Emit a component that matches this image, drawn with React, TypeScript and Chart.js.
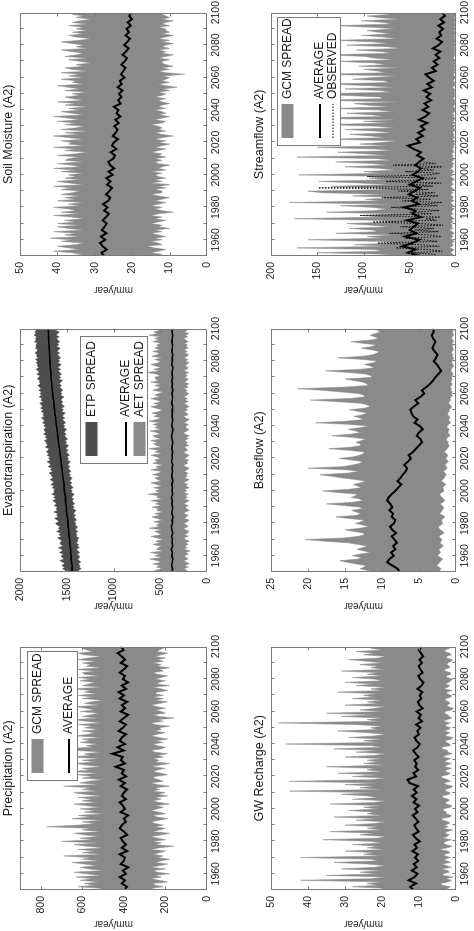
import React, { useEffect, useRef } from "react";
import { Chart, registerables } from "chart.js";

Chart.register(...registerables);

const FONT = "'Liberation Sans', Arial, Helvetica, sans-serif";
const GRAY = "#8a8a8a";
const DARK = "#4e4e4e";
const FRAME = "#7a7a7a";
const TEXT = "#1c1c1c";

// ---------- categories ----------
const YEARS_1 = Array.from({ length: 151 }, (_, i) => 1950 + i); // annual (spread bands)
const YEARS_2 = Array.from({ length: 76 }, (_, i) => 1950 + 2 * i); // averages
const OBS_YEARS = Array.from({ length: 58 }, (_, i) => 1951 + i);
const TIME_TICKS = [1960, 1980, 2000, 2020, 2040, 2060, 2080, 2100];

const PRECIP_TICKS = [0, 200, 400, 600, 800];
const ET_TICKS = [0, 500, 1000, 1500, 2000];
const SM_TICKS = [0, 10, 20, 30, 40, 50];
const GWR_TICKS = [0, 10, 20, 30, 40, 50];
const BF_TICKS = [0, 5, 10, 15, 20, 25];
const SF_TICKS = [0, 50, 100, 150, 200];

// ---------- Precipitation ----------
const PRECIP_MAX = [
  560, 500, 620, 540, 590, 520, 610, 550, 630, 510,
  580, 640, 500, 570, 610, 530, 590, 650, 520, 600,
  560, 690, 510, 600, 540, 620, 500, 580, 640, 530,
  700, 550, 610, 520, 590, 640, 510, 600, 560, 770,
  620, 540, 600, 510, 650, 560, 620, 500, 590, 540,
  610, 520, 580, 640, 530, 600, 550, 620, 510, 590,
  640, 530, 600, 560, 690, 520, 610, 570, 500, 600,
  550, 620, 520, 650, 560, 600, 510, 580, 630, 540,
  600, 520, 660, 560, 590, 510, 620, 720, 550, 580,
  530, 610, 560, 600, 510, 630, 570, 540, 600, 520,
  590, 550, 620, 510, 580, 640, 530, 600, 560, 520,
  610, 540, 580, 630, 520, 590, 560, 500, 600, 550,
  620, 530, 590, 560, 640, 510, 600, 570, 540, 610,
  560, 620, 520, 590, 600, 540, 630, 510, 580, 560,
  600, 530, 620, 570, 510, 590, 620, 550, 580, 600,
  560,
];
const PRECIP_MIN = [
  240, 270, 210, 250, 260, 190, 230, 270, 220, 250,
  180, 240, 260, 200, 270, 230, 190, 250, 220, 180,
  240, 210, 260, 230, 200, 270, 230, 160, 250, 220,
  260, 200, 240, 270, 220, 180, 260, 230, 200, 250,
  210, 250, 270, 230, 190, 240, 260, 200, 230, 270,
  240, 210, 250, 180, 230, 260, 220, 250, 190, 240,
  200, 260, 230, 250, 180, 240, 270, 210, 230, 260,
  250, 190, 220, 260, 240, 200, 270, 230, 180, 250,
  230, 260, 210, 240, 190, 250, 270, 220, 200, 240,
  260, 210, 250, 190, 230, 270, 240, 200, 250, 220,
  230, 180, 250, 270, 210, 240, 160, 230, 260, 200,
  220, 250, 200, 240, 270, 230, 190, 250, 210, 260,
  210, 250, 240, 190, 220, 260, 180, 240, 230, 200,
  250, 220, 190, 240, 260, 210, 230, 180, 240, 220,
  260, 210, 240, 200, 250, 220, 190, 240, 230, 210,
  250,
];
const PRECIP_AVG = [
  400, 385, 410, 395, 420, 390, 405, 380, 415, 400,
  395, 420, 385, 410, 390, 405, 415, 385, 400, 420,
  410, 390, 400, 380, 415, 395, 405, 420, 390, 410,
  400, 385, 415, 395, 425, 390, 410, 400, 440, 395,
  415, 405, 455, 400, 430, 395, 420, 410, 390, 425,
  405, 390, 420, 400, 380, 415, 395, 410, 385, 420,
  400, 425, 390, 410, 380, 405, 395, 420, 400, 385,
  415, 395, 410, 430, 400, 415,
];

// ---------- Evapotranspiration ----------
const ETP_MAX = [
  1530, 1510, 1545, 1520, 1555, 1525, 1540, 1575, 1530, 1550,
  1560, 1535, 1580, 1545, 1555, 1590, 1540, 1565, 1575, 1550,
  1570, 1600, 1555, 1585, 1565, 1610, 1575, 1590, 1570, 1605,
  1620, 1585, 1600, 1630, 1590, 1610, 1595, 1640, 1600, 1615,
  1600, 1635, 1610, 1625, 1650, 1615, 1640, 1620, 1660, 1630,
  1640, 1625, 1655, 1635, 1670, 1640, 1650, 1680, 1645, 1660,
  1665, 1690, 1650, 1675, 1660, 1700, 1670, 1685, 1710, 1675,
  1695, 1680, 1710, 1690, 1720, 1700, 1690, 1730, 1705, 1715,
  1720, 1740, 1705, 1730, 1715, 1750, 1725, 1735, 1745, 1720,
  1745, 1730, 1760, 1735, 1750, 1770, 1740, 1755, 1745, 1775,
  1750, 1780, 1760, 1770, 1790, 1755, 1775, 1765, 1795, 1770,
  1785, 1770, 1800, 1775, 1790, 1810, 1780, 1795, 1785, 1815,
  1800, 1790, 1820, 1795, 1805, 1830, 1800, 1815, 1810, 1825,
  1810, 1835, 1805, 1825, 1815, 1840, 1820, 1810, 1835, 1825,
  1830, 1815, 1845, 1825, 1835, 1820, 1850, 1830, 1840, 1825,
  1835,
];
const ETP_MIN = [
  1360, 1375, 1345, 1370, 1355, 1380, 1350, 1365, 1385, 1360,
  1370, 1390, 1360, 1380, 1395, 1365, 1385, 1375, 1400, 1380,
  1385, 1370, 1400, 1390, 1405, 1380, 1410, 1395, 1385, 1415,
  1400, 1420, 1395, 1410, 1425, 1405, 1430, 1415, 1400, 1435,
  1420, 1440, 1415, 1430, 1445, 1425, 1450, 1435, 1420, 1455,
  1440, 1460, 1430, 1450, 1465, 1445, 1470, 1455, 1440, 1475,
  1460, 1480, 1455, 1470, 1485, 1465, 1490, 1475, 1460, 1495,
  1480, 1500, 1470, 1490, 1505, 1485, 1510, 1495, 1480, 1515,
  1500, 1520, 1490, 1510, 1525, 1505, 1530, 1515, 1500, 1535,
  1520, 1540, 1510, 1530, 1545, 1520, 1550, 1535, 1515, 1555,
  1535, 1555, 1525, 1545, 1560, 1540, 1565, 1550, 1530, 1570,
  1550, 1570, 1540, 1560, 1575, 1555, 1580, 1565, 1545, 1585,
  1565, 1580, 1555, 1575, 1590, 1565, 1595, 1575, 1560, 1600,
  1575, 1590, 1565, 1585, 1600, 1575, 1605, 1585, 1570, 1610,
  1585, 1600, 1575, 1595, 1610, 1580, 1615, 1595, 1580, 1620,
  1590,
];
const ETP_AVG = [
  1440, 1445, 1442, 1450, 1455, 1452, 1460, 1458, 1465, 1470,
  1468, 1475, 1480, 1478, 1485, 1490, 1488, 1495, 1500, 1505,
  1502, 1510, 1515, 1512, 1520, 1525, 1530, 1528, 1535, 1540,
  1545, 1548, 1552, 1558, 1560, 1565, 1570, 1575, 1578, 1585,
  1588, 1592, 1598, 1600, 1605, 1610, 1615, 1618, 1622, 1628,
  1630, 1635, 1638, 1642, 1648, 1650, 1655, 1658, 1660, 1665,
  1668, 1670, 1672, 1676, 1678, 1680, 1682, 1685, 1686, 1688,
  1690, 1692, 1694, 1695, 1697, 1700,
];
const AET_MAX = [
  520, 560, 470, 540, 500, 580, 490, 530, 610, 480,
  560, 500, 610, 470, 540, 520, 490, 580, 500, 550,
  470, 540, 600, 490, 520, 560, 480, 620, 510, 540,
  500, 570, 480, 530, 590, 500, 560, 470, 540, 520,
  590, 490, 550, 510, 600, 480, 540, 520, 630, 500,
  550, 500, 570, 480, 540, 600, 490, 530, 560, 500,
  580, 520, 490, 600, 510, 550, 470, 580, 530, 560,
  500, 540, 600, 480, 560, 510, 620, 490, 540, 570,
  530, 600, 490, 550, 580, 500, 540, 610, 490, 560,
  520, 580, 500, 620, 540, 490, 570, 520, 590, 510,
  480, 550, 600, 510, 570, 490, 540, 600, 500, 560,
  520, 470, 580, 530, 500, 560, 490, 600, 520, 550,
  560, 500, 540, 640, 510, 570, 490, 550, 600, 520,
  500, 560, 480, 590, 530, 510, 580, 500, 560, 520,
  540, 490, 580, 510, 560, 500, 620, 530, 570, 510,
  530,
];
const AET_MIN = [
  230, 210, 250, 200, 240, 190, 220, 250, 200, 230,
  240, 200, 230, 180, 250, 210, 240, 200, 230, 190,
  230, 250, 200, 240, 210, 190, 230, 250, 200, 220,
  250, 210, 190, 240, 220, 200, 250, 230, 190, 220,
  230, 200, 250, 220, 190, 240, 210, 230, 200, 250,
  215, 240, 190, 230, 205, 250, 220, 190, 240, 210,
  225, 200, 245, 210, 190, 235, 250, 205, 220, 195,
  240, 210, 190, 230, 250, 205, 220, 240, 195, 225,
  210, 240, 200, 225, 190, 235, 250, 210, 195, 230,
  225, 200, 245, 215, 190, 230, 250, 200, 220, 240,
  205, 230, 190, 220, 245, 200, 235, 210, 250, 215,
  195, 230, 210, 245, 200, 225, 190, 240, 215, 200,
  240, 210, 230, 195, 250, 215, 200, 235, 220, 190,
  230, 205, 245, 215, 195, 235, 210, 250, 200, 225,
  210, 240, 200, 225, 250, 205, 230, 195, 240, 215,
  225,
];
const AET_AVG = [
  375, 368, 380, 372, 365, 378, 370, 383, 367, 374,
  370, 379, 366, 375, 382, 369, 373, 364, 377, 371,
  368, 376, 372, 381, 366, 374, 370, 378, 365, 373,
  377, 369, 374, 366, 380, 371, 375, 368, 376, 372,
  367, 374, 379, 370, 365, 377, 372, 368, 375, 370,
  373, 366, 378, 371, 369, 376, 365, 374, 370, 377,
  368, 375, 371, 364, 379, 370, 373, 367, 376, 371,
  369, 376, 372, 366, 374, 370,
];

// ---------- Soil Moisture ----------
const SM_MAX = [
  38, 33, 36, 41, 34, 37, 40, 35, 33, 39,
  36, 42, 34, 38, 35, 41, 33, 37, 40, 34,
  40, 35, 38, 33, 36, 41, 34, 39, 35, 37,
  41, 34, 37, 33, 40, 35, 38, 34, 39, 36,
  34, 39, 36, 41, 33, 37, 40, 34, 38, 35,
  37, 33, 39, 35, 41, 34, 36, 40, 33, 38,
  37, 34, 40, 35, 32, 38, 35, 41, 33, 37,
  36, 39, 33, 37, 41, 34, 38, 32, 39, 35,
  33, 38, 35, 40, 34, 37, 41, 33, 36, 39,
  34, 37, 32, 38, 35, 40, 33, 36, 38, 34,
  36, 32, 38, 34, 37, 40, 33, 36, 35, 39,
  33, 37, 34, 39, 32, 36, 38, 33, 35, 31,
  34, 37, 32, 38, 35, 33, 36, 39, 32, 35,
  33, 36, 39, 34, 31, 35, 37, 33, 36, 32,
  35, 33, 37, 32, 36, 34, 31, 35, 33, 36,
  34,
];
const SM_MIN = [
  14, 12, 15, 13, 11, 14, 16, 12, 13, 15,
  12, 14, 11, 13, 15, 12, 14, 10, 13, 12,
  15, 13, 11, 14, 12, 15, 13, 9, 12, 14,
  12, 15, 13, 11, 14, 12, 10, 13, 15, 12,
  12, 14, 11, 13, 10, 15, 12, 14, 11, 13,
  14, 12, 15, 11, 13, 12, 10, 13, 14, 12,
  14, 11, 13, 12, 15, 13, 11, 14, 12, 10,
  13, 11, 14, 12, 9, 12, 14, 11, 13, 12,
  13, 15, 12, 11, 14, 12, 10, 13, 11, 12,
  14, 11, 13, 12, 10, 12, 13, 11, 14, 12,
  11, 13, 10, 12, 8, 11, 13, 10, 12, 11,
  10, 12, 6, 11, 13, 10, 12, 9, 11, 12,
  12, 10, 13, 11, 9, 12, 11, 13, 10, 12,
  11, 9, 12, 10, 13, 11, 9, 12, 10, 11,
  11, 13, 10, 12, 11, 9, 12, 10, 11, 12,
  11,
];
const SM_AVG = [
  27.5, 28.2, 26.8, 27.9, 28.6, 27.2, 28.4, 26.9, 28.1, 27.4,
  26.8, 27.9, 27.0, 26.2, 27.5, 26.6, 27.8, 26.4, 25.9, 27.0,
  26.1, 25.4, 26.7, 25.8, 26.9, 25.2, 26.3, 24.8, 25.9, 26.4,
  25.1, 24.6, 25.8, 24.2, 25.4, 24.9, 23.8, 25.2, 24.4, 23.9,
  24.8, 23.6, 24.5, 23.2, 24.2, 23.7, 24.9, 23.1, 23.8, 22.9,
  23.5, 22.6, 23.9, 22.8, 23.3, 22.1, 23.0, 22.4, 21.8, 22.9,
  22.0, 21.4, 22.6, 21.7, 20.9, 22.1, 21.3, 20.6, 21.8, 20.9,
  21.5, 20.4, 21.2, 20.1, 20.8, 20.3,
];

// ---------- GW Recharge ----------
const GWR_MAX = [
  22, 19, 28, 21, 24, 20, 42, 23, 19, 35,
  21, 26, 20, 31, 22, 19, 24, 33, 21, 23,
  42, 20, 25, 22, 30, 19, 24, 21, 28, 20,
  23, 36, 21, 19, 26, 22, 34, 20, 24, 21,
  30, 22, 19, 27, 21, 33, 20, 24, 22, 29,
  21, 25, 20, 34, 22, 19, 28, 21, 24, 31,
  22, 45, 20, 26, 22, 30, 21, 45, 23, 19,
  28, 21, 32, 20, 24, 22, 35, 19, 25, 21,
  24, 20, 30, 22, 19, 27, 21, 33, 20, 23,
  46, 21, 25, 20, 29, 22, 19, 24, 32, 21,
  23, 20, 27, 48, 21, 24, 20, 31, 22, 35,
  20, 26, 22, 19, 30, 21, 24, 20, 28, 22,
  25, 21, 32, 20, 23, 19, 27, 22, 30, 20,
  22, 28, 20, 24, 21, 31, 19, 23, 21, 26,
  20, 24, 29, 21, 19, 25, 22, 27, 20, 23,
  22,
];
const GWR_MIN = [
  3.0, 2.2, 1.5, 3.8, 4.2, 2.0, 1.2, 2.8, 0.8, 3.5,
  3.5, 1.8, 2.2, 4.0, 1.2, 2.6, 3.8, 1.5, 2.5, 3.2,
  1.4, 2.9, 3.2, 1.6, 2.0, 4.5, 2.3, 1.0, 2.8, 3.4,
  2.8, 1.2, 3.6, 2.4, 1.8, 3.0, 2.4, 0.9, 3.3, 2.1,
  3.1, 1.7, 2.0, 3.5, 4.0, 1.6, 1.3, 2.7, 2.6, 3.4,
  3.4, 1.5, 1.1, 2.6, 2.9, 1.9, 2.0, 3.6, 3.7, 1.8,
  1.6, 2.9, 2.8, 1.4, 0.9, 2.7, 3.3, 1.5, 2.2, 3.6,
  4.1, 2.3, 1.5, 2.8, 2.7, 1.2, 3.0, 2.5, 1.2, 3.1,
  2.5, 1.4, 3.6, 2.8, 1.0, 2.2, 2.3, 3.7, 3.9, 1.5,
  1.7, 2.6, 2.9, 1.3, 0.8, 2.9, 2.4, 1.6, 3.2, 2.0,
  1.4, 2.9, 2.6, 1.5, 3.5, 2.4, 1.1, 1.8, 2.2, 3.1,
  3.0, 1.2, 0.7, 2.1, 2.5, 1.6, 1.9, 3.0, 2.8, 1.3,
  1.2, 2.5, 2.4, 1.0, 3.3, 2.2, 1.6, 2.9, 2.0, 1.4,
  0.9, 2.3, 2.7, 1.4, 1.5, 3.0, 3.1, 1.7, 1.8, 2.4,
  2.2, 1.3, 1.0, 2.5, 2.6, 1.2, 1.7, 3.0, 2.9, 1.6,
  1.4,
];
const GWR_AVG = [
  11.5, 12.4, 10.8, 12.8, 11.2, 10.4, 11.9, 10.6, 11.4, 10.2,
  11.1, 10.3, 11.8, 10.5, 11.2, 9.8, 10.9, 11.6, 10.1, 10.8,
  11.3, 10.2, 10.9, 11.7, 10.4, 11.1, 10.0, 11.5, 10.7, 11.9,
  10.6, 11.4, 10.3, 12.6, 13.1, 10.8, 11.5, 10.2, 11.0, 10.6,
  11.3, 10.1, 10.9, 11.6, 10.4, 9.8, 10.7, 11.2, 10.0, 10.5,
  9.6, 10.8, 9.2, 10.1, 9.5, 10.6, 9.0, 9.9, 10.3, 9.4,
  9.8, 9.1, 10.4, 9.3, 8.8, 9.7, 10.2, 9.0, 9.6, 10.1,
  9.2, 9.9, 8.9, 9.5, 10.0, 9.3,
];

// ---------- Baseflow ----------
const BF_MAX = [
  11.0, 12.0, 13.0, 12.4, 12.2, 13.5, 14.8, 15.7, 13.2, 12.8,
  14.0, 13.1, 11.6, 12.5, 13.4, 12.6, 12.0, 13.3, 14.6, 17.8,
  20.4, 15.2, 13.2, 12.4, 12.5, 13.8, 15.0, 13.0, 11.8, 12.6,
  13.6, 12.8, 12.4, 14.5, 16.2, 13.4, 12.9, 13.5, 14.1, 12.7,
  13.0, 15.2, 17.5, 14.0, 12.6, 13.0, 14.2, 13.6, 13.3, 16.0,
  18.0, 14.5, 12.8, 13.3, 13.9, 12.9, 12.2, 13.6, 15.4, 16.8,
  18.4, 14.6, 13.1, 14.8, 20.0, 15.2, 14.0, 13.0, 12.6, 14.0,
  15.8, 13.9, 13.0, 12.5, 12.4, 14.4, 17.2, 14.1, 12.8, 13.0,
  13.5, 12.8, 12.2, 14.0, 16.8, 14.2, 12.9, 13.6, 14.6, 12.9,
  11.8, 14.5, 19.0, 14.8, 12.5, 13.0, 13.8, 12.6, 12.0, 13.2,
  14.4, 12.4, 11.6, 12.0, 12.8, 16.0, 19.7, 14.2, 12.3, 12.5,
  13.1, 15.6, 18.0, 21.4, 15.0, 11.9, 12.0, 12.6, 13.8, 15.0,
  11.4, 11.5, 12.2, 14.5, 17.6, 12.8, 11.0, 11.6, 12.4, 11.2,
  10.6, 12.5, 16.0, 12.6, 11.2, 10.6, 10.4, 11.5, 12.8, 11.4,
  10.8, 12.6, 14.2, 11.5, 10.5, 11.0, 11.6, 10.9, 10.2, 10.6,
  11.0,
];
const BF_MIN = [
  2.4, 2.2, 2.0, 2.3, 2.6, 2.4, 2.2, 2.0, 1.8, 2.1,
  2.5, 2.3, 2.1, 2.2, 2.3, 2.0, 1.7, 1.9, 2.2, 2.0,
  1.9, 2.1, 2.3, 2.0, 1.6, 1.8, 2.1, 2.3, 2.4, 2.0,
  1.8, 1.9, 2.0, 1.7, 1.5, 1.8, 2.2, 2.0, 1.9, 1.7,
  1.7, 1.9, 2.1, 1.8, 1.5, 1.7, 1.9, 2.1, 2.2, 1.9,
  1.6, 1.7, 1.8, 1.6, 1.4, 1.6, 2.0, 1.8, 1.6, 1.5,
  1.3, 1.5, 1.7, 1.4, 1.2, 1.3, 1.5, 1.3, 1.0, 1.2,
  1.4, 1.2, 1.1, 1.3, 1.6, 1.4, 1.2, 1.0, 0.9, 1.1,
  1.0, 1.2, 1.3, 1.1, 0.8, 0.9, 1.1, 1.0, 0.9, 1.2,
  1.2, 1.0, 0.7, 0.9, 1.0, 0.8, 0.9, 1.1, 1.1, 0.9,
  0.9, 0.7, 0.6, 0.8, 1.0, 0.9, 0.7, 0.8, 0.6, 0.5,
  0.6, 0.5, 0.7, 0.6, 0.8, 0.6, 0.5, 0.7, 0.6, 0.5,
  0.6, 0.5, 0.4, 0.5, 0.7, 0.6, 0.5, 0.3, 0.4, 0.6,
  0.5, 0.4, 0.3, 0.5, 0.4, 0.6, 0.5, 0.3, 0.4, 0.5,
  0.4, 0.5, 0.3, 0.4, 0.6, 0.5, 0.3, 0.4, 0.5, 0.3,
  0.4,
];
const BF_AVG = [
  7.6, 7.9, 8.6, 9.3, 9.0, 8.4, 8.8, 8.2, 8.5, 8.0,
  8.3, 8.7, 8.1, 8.6, 8.9, 8.4, 8.2, 8.7, 8.5, 9.0,
  8.6, 8.9, 9.3, 9.1, 8.7, 8.2, 7.8, 7.4, 7.9, 7.5,
  7.2, 6.8, 6.6, 7.0, 6.5, 6.1, 6.4, 5.8, 5.4, 5.0,
  4.6, 4.8, 5.3, 5.0, 4.5, 4.9, 5.6, 5.2, 5.8, 6.0,
  6.2, 5.7, 5.1, 5.5, 4.8, 4.3, 4.6, 4.0, 3.5, 3.1,
  2.8, 2.4, 2.0, 2.3, 2.6, 3.0, 2.7, 2.5, 2.9, 3.2,
  3.0, 2.8, 3.1, 3.3, 3.0, 3.1,
];

// ---------- Streamflow ----------
const SF_MAX = [
  95, 70, 150, 80, 88, 172, 75, 110, 65, 82,
  160, 78, 96, 68, 130, 85, 90, 115, 72, 92,
  118, 70, 85, 175, 80, 102, 66, 140, 88, 75,
  92, 125, 70, 180, 82, 98, 64, 112, 78, 145,
  160, 72, 88, 135, 70, 105, 148, 76, 94, 68,
  170, 80, 100, 66, 82, 120, 74, 90, 130, 70,
  85, 172, 75, 96, 128, 68, 88, 150, 72, 104,
  80, 64, 138, 76, 92, 115, 70, 86, 120, 66,
  86, 142, 72, 100, 65, 165, 78, 90, 118, 68,
  84, 132, 70, 96, 110, 62, 150, 80, 82, 120,
  150, 70, 82, 120, 66, 94, 138, 72, 78, 112,
  90, 64, 145, 76, 84, 100, 62, 105, 76, 88,
  128, 66, 88, 98, 140, 70, 80, 108, 60, 74,
  118, 72, 90, 130, 64, 78, 102, 70, 85, 96,
  66, 90, 130, 70, 78, 102, 62, 85, 96, 70,
  88,
];
const SF_MIN = [
  5, 3, 6, 4, 2, 7, 4, 3, 5, 2,
  4, 6, 3, 5, 2, 4, 7, 3, 5, 4,
  6, 3, 5, 2, 4, 6, 3, 5, 4, 2,
  5, 3, 4, 6, 2, 5, 3, 4, 6, 3,
  5, 2, 4, 6, 3, 4, 5, 2, 3, 6,
  3, 5, 2, 4, 6, 3, 4, 2, 5, 3,
  2, 4, 3, 5, 2, 3, 4, 2, 3, 1,
  3, 2, 4, 1, 3, 2, 4, 2, 1, 3,
  2, 4, 1, 3, 2, 1, 3, 2, 4, 1,
  2, 1, 3, 2, 1, 2, 1, 3, 2, 1,
  3, 2, 1, 2, 4, 1, 2, 1, 3, 2,
  1, 2, 3, 1, 2, 1, 2, 1, 2, 1,
  2, 1, 3, 2, 1, 2, 1, 2, 1, 2,
  1, 2, 1, 1, 2, 1, 2, 1, 1, 2,
  1, 2, 1, 1, 2, 1, 1, 2, 1, 1,
  1,
];
const SF_AVG = [
  38, 52, 44, 58, 47, 40, 55, 43, 50, 46,
  41, 53, 38, 47, 44, 56, 40, 48, 42, 51,
  45, 39, 50, 43, 36, 47, 41, 38, 44, 40,
  35, 42, 38, 46, 52, 39, 43, 36, 41, 34,
  38, 31, 40, 33, 29, 36, 30, 34, 27, 32,
  28, 35, 26, 31, 24, 29, 33, 22, 26, 20,
  24, 18, 22, 17, 25, 19, 15, 21, 16, 18,
  14, 19, 13, 17, 12, 15,
];
const SF_OBS = [
  22, 48, 15, 30, 65, 18, 40, 85, 20, 35,
  55, 16, 28, 72, 19, 45, 24, 60, 14, 38,
  90, 21, 33, 17, 104, 26, 50, 18, 42, 70,
  20, 36, 15, 58, 27, 80, 19, 44, 23, 62,
  30, 149, 25, 47, 16, 76, 34, 21, 96, 28,
  18, 55, 24, 40, 15, 68, 22, 35,
];

// ---------- layout (landscape, later rotated) ----------
const PAD_L = 50;
const PAD_T = 22;
const PAD_R = 14;
const PAD_B = 24;

type Series =
  | { kind: "band"; max: number[]; min: number[]; color: string }
  | { kind: "avg"; data: number[]; width?: number }
  | { kind: "obs"; data: number[] };

type LegendEntry = { kind: "rect" | "line" | "dots"; color?: string; label: string; dy: number };

type PanelCfg = {
  id: string;
  left: number;
  top: number;
  w: number;
  h: number;
  title: string;
  yMax: number;
  yStep: number;
  yTicks: number[];
  series: Series[];
  legend?: { right: number; top: number; w: number; h: number; entries: LegendEntry[] };
};

const PANELS: PanelCfg[] = [
  {
    id: "precip", left: 41, top: 20, w: 244, h: 187, title: "Precipitation (A2)",
    yMax: 900, yStep: 200, yTicks: PRECIP_TICKS,
    series: [
      { kind: "avg", data: PRECIP_AVG, width: 2 },
      { kind: "band", max: PRECIP_MAX, min: PRECIP_MIN, color: GRAY },
    ],
    legend: {
      right: 5, top: 7, w: 129, h: 50,
      entries: [
        { kind: "rect", color: GRAY, label: "GCM SPREAD", dy: 10 },
        { kind: "line", label: "AVERAGE", dy: 41 },
      ],
    },
  },
  {
    id: "et", left: 359, top: 20, w: 244, h: 187, title: "Evapotranspiration (A2)",
    yMax: 2000, yStep: 500, yTicks: ET_TICKS,
    series: [
      { kind: "avg", data: ETP_AVG, width: 1.6 },
      { kind: "avg", data: AET_AVG, width: 1.6 },
      { kind: "band", max: ETP_MAX, min: ETP_MIN, color: DARK },
      { kind: "band", max: AET_MAX, min: AET_MIN, color: GRAY },
    ],
    legend: {
      right: 8, top: 60, w: 127, h: 67,
      entries: [
        { kind: "rect", color: DARK, label: "ETP SPREAD", dy: 11 },
        { kind: "line", label: "AVERAGE", dy: 45 },
        { kind: "rect", color: GRAY, label: "AET SPREAD", dy: 59 },
      ],
    },
  },
  {
    id: "sm", left: 675, top: 20, w: 244, h: 187, title: "Soil Moisture (A2)",
    yMax: 50, yStep: 10, yTicks: SM_TICKS,
    series: [
      { kind: "avg", data: SM_AVG, width: 2 },
      { kind: "band", max: SM_MAX, min: SM_MIN, color: GRAY },
    ],
  },
  {
    id: "gwr", left: 41, top: 271, w: 244, h: 185, title: "GW Recharge (A2)",
    yMax: 50, yStep: 10, yTicks: GWR_TICKS,
    series: [
      { kind: "avg", data: GWR_AVG, width: 2 },
      { kind: "band", max: GWR_MAX, min: GWR_MIN, color: GRAY },
    ],
  },
  {
    id: "bf", left: 359, top: 271, w: 244, h: 185, title: "Baseflow (A2)",
    yMax: 25, yStep: 5, yTicks: BF_TICKS,
    series: [
      { kind: "avg", data: BF_AVG, width: 2 },
      { kind: "band", max: BF_MAX, min: BF_MIN, color: GRAY },
    ],
  },
  {
    id: "sf", left: 675, top: 271, w: 244, h: 185, title: "Streamflow (A2)",
    yMax: 200, yStep: 50, yTicks: SF_TICKS,
    series: [
      { kind: "avg", data: SF_AVG, width: 2 },
      { kind: "obs", data: SF_OBS },
      { kind: "band", max: SF_MAX, min: SF_MIN, color: GRAY },
    ],
    legend: {
      right: 5, top: 6, w: 128, h: 63,
      entries: [
        { kind: "rect", color: GRAY, label: "GCM SPREAD", dy: 10 },
        { kind: "line", label: "AVERAGE", dy: 42 },
        { kind: "dots", label: "OBSERVED", dy: 55 },
      ],
    },
  },
];

function pts(xs: number[], ys: number[]) {
  return ys.map((y, i) => ({ x: xs[i], y }));
}

function buildDatasets(series: Series[]) {
  const ds: any[] = [];
  for (const s of series) {
    if (s.kind === "band") {
      ds.push({
        data: pts(YEARS_1, s.max), fill: "+1", backgroundColor: s.color, borderColor: s.color,
        borderWidth: 0.5, pointRadius: 0, order: 3,
      });
      ds.push({
        data: pts(YEARS_1, s.min), fill: false, borderColor: s.color,
        borderWidth: 0.5, pointRadius: 0, order: 3,
      });
    } else if (s.kind === "avg") {
      ds.push({
        data: pts(YEARS_2, s.data), fill: false, borderColor: "#000",
        borderWidth: s.width ?? 2, pointRadius: 0, order: 0,
      });
    } else {
      ds.push({
        data: pts(OBS_YEARS, s.data), fill: false, borderColor: "#111",
        borderWidth: 1, borderDash: [1.5, 1.5], pointRadius: 0, order: 1,
      });
    }
  }
  return ds;
}

function makeDecor(p: PanelCfg) {
  return {
    id: "decor_" + p.id,
    afterDatasetsDraw(chart: any) {
      const { ctx, chartArea: a } = chart;
      const xs = chart.scales.x;
      const ys = chart.scales.y;
      const L = Math.round(a.left) + 0.5;
      const R = Math.round(a.right) - 0.5;
      const T = Math.round(a.top) + 0.5;
      const B = Math.round(a.bottom) - 0.5;
      ctx.save();
      ctx.strokeStyle = FRAME;
      ctx.lineWidth = 1;
      ctx.beginPath();
      xs.ticks.forEach((t: any) => {
        if (t.value <= 1950 || t.value >= 2100) return;
        const x = Math.round(xs.getPixelForValue(t.value)) + 0.5;
        ctx.moveTo(x, B); ctx.lineTo(x, B - 3);
        ctx.moveTo(x, T); ctx.lineTo(x, T + 3);
      });
      ys.ticks.forEach((t: any) => {
        if (t.value <= 0 || t.value >= p.yMax) return;
        const y = Math.round(ys.getPixelForValue(t.value)) + 0.5;
        ctx.moveTo(L, y); ctx.lineTo(L + 3, y);
        ctx.moveTo(R, y); ctx.lineTo(R - 3, y);
      });
      ctx.stroke();

      if (p.legend) {
        const lg = p.legend;
        const bx = Math.round(a.right - lg.right - lg.w) + 0.5;
        const by = Math.round(a.top + lg.top) + 0.5;
        ctx.fillStyle = "#fff";
        ctx.fillRect(bx, by, lg.w, lg.h);
        ctx.strokeStyle = FRAME;
        ctx.strokeRect(bx, by, lg.w, lg.h);
        ctx.font = `12px ${FONT}`;
        ctx.textAlign = "left";
        ctx.textBaseline = "middle";
        for (const e of lg.entries) {
          const cy = by + e.dy;
          const sx = bx + 7.5;
          if (e.kind === "rect") {
            ctx.fillStyle = e.color || GRAY;
            ctx.fillRect(sx, cy - 6, 34, 12);
          } else {
            ctx.save();
            ctx.beginPath();
            ctx.strokeStyle = "#000";
            ctx.lineWidth = e.kind === "dots" ? 1 : 2;
            ctx.setLineDash(e.kind === "dots" ? [1.5, 1.5] : []);
            ctx.moveTo(sx, Math.round(cy));
            ctx.lineTo(sx + 34, Math.round(cy));
            ctx.stroke();
            ctx.restore();
          }
          ctx.fillStyle = TEXT;
          ctx.fillText(e.label, sx + 39, cy + 0.5);
        }
      }

      ctx.strokeStyle = FRAME;
      ctx.strokeRect(L, T, R - L, B - T);

      ctx.fillStyle = TEXT;
      ctx.font = `12.5px ${FONT}`;
      ctx.textAlign = "center";
      ctx.textBaseline = "middle";
      ctx.fillText(p.title, (a.left + a.right) / 2, a.top - 11);

      ctx.save();
      ctx.translate(a.left - 34, (a.top + a.bottom) / 2);
      ctx.rotate(-Math.PI / 2);
      ctx.font = `10px ${FONT}`;
      ctx.fillText("mm/year", 0, 0);
      ctx.restore();

      ctx.restore();
    },
  };
}

function Panel({ p }: { p: PanelCfg }) {
  const ref = useRef<HTMLCanvasElement | null>(null);
  const cw = PAD_L + p.w + PAD_R;
  const ch = PAD_T + p.h + PAD_B;
  useEffect(() => {
    if (!ref.current) return;
    const chart = new Chart(ref.current, {
      type: "line",
      data: { datasets: buildDatasets(p.series) },
      options: {
        animation: false,
        responsive: false,
        maintainAspectRatio: false,
        devicePixelRatio: 1,
        layout: { padding: { top: PAD_T, right: PAD_R, left: 0, bottom: 0 } },
        plugins: { legend: { display: false }, tooltip: { enabled: false }, title: { display: false } },
        elements: { point: { radius: 0 }, line: { tension: 0 } },
        scales: {
          x: {
            type: "linear", min: 1950, max: 2100, position: "bottom",
            grid: { display: false, drawTicks: false },
            border: { display: false },
            ticks: {
              stepSize: 10, autoSkip: false, maxRotation: 0, minRotation: 0, padding: 3,
              color: TEXT, font: { family: FONT, size: 10.5 },
              callback: (v: any) => (TIME_TICKS.includes(Number(v)) ? String(v) : ""),
            },
            afterFit: (s: any) => { s.height = PAD_B; },
          },
          y: {
            type: "linear", min: 0, max: p.yMax, position: "left",
            grid: { display: false, drawTicks: false },
            border: { display: false },
            ticks: {
              stepSize: p.yStep, includeBounds: false, padding: 6, autoSkip: false,
              color: TEXT, font: { family: FONT, size: 10.5 },
              callback: (v: any) => (p.yTicks.includes(Number(v)) ? String(v) : ""),
            },
            afterFit: (s: any) => { s.width = PAD_L; },
          },
        },
      } as any,
      plugins: [makeDecor(p)],
    });
    return () => chart.destroy();
  }, []);
  return (
    <canvas
      ref={ref}
      width={cw}
      height={ch}
      style={{ position: "absolute", left: p.left - PAD_L, top: p.top - PAD_T, width: cw, height: ch }}
    />
  );
}

export default function App() {
  useEffect(() => {
    document.body.style.margin = "0";
    document.body.style.overflow = "hidden";
  }, []);
  return (
    <div
      style={{
        position: "fixed",
        left: 0,
        top: 0,
        width: 931,
        height: 474,
        background: "#fff",
        transformOrigin: "0 0",
        transform: "translate(0px, 931px) rotate(-90deg)",
        overflow: "hidden",
      }}
    >
      {PANELS.map((p) => (
        <Panel key={p.id} p={p} />
      ))}
    </div>
  );
}
